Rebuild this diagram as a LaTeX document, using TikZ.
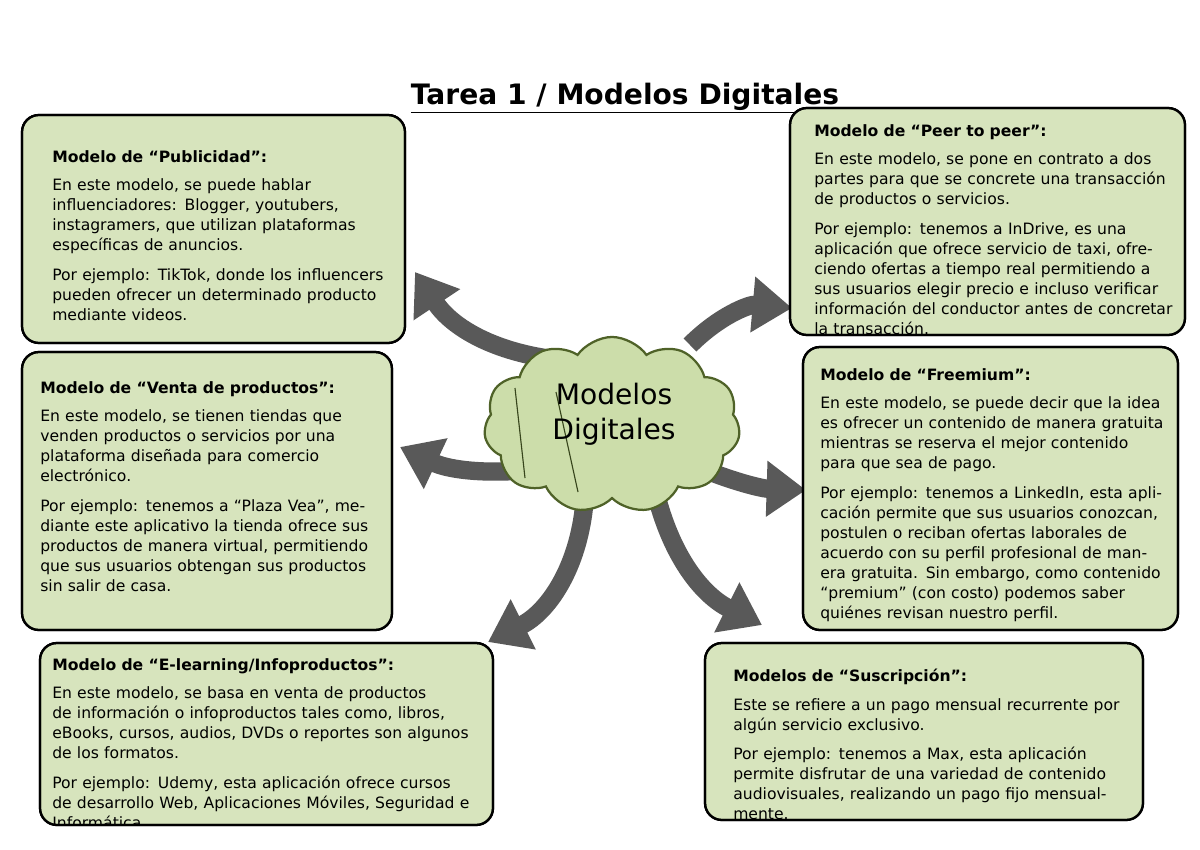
\documentclass[tikz,border=0pt]{standalone}
\usepackage{fontspec}
\setmainfont{DejaVu Sans}
\usetikzlibrary{arrows.meta,shapes.symbols,positioning}
\definecolor{boxfill}{HTML}{D7E4BD}
\definecolor{cloudfill}{HTML}{CCDDAA}
\definecolor{cloudline}{HTML}{4F6228}
\definecolor{arrowgray}{HTML}{595959}
\tikzset{
    modelbox/.style={draw=black, fill=boxfill, line width=1.6pt, rounded corners=12pt},
    modeltext/.style={anchor=north west, inner sep=0pt, align=left,
        font=\fontsize{11.1}{14.2}\selectfont},
    bigarrow/.style={draw=arrowgray, line width=13pt,
        -{Triangle[width=38pt,length=28pt]}},
}
\newcommand{\mhead}[1]{\hyphenpenalty=10000\exhyphenpenalty=10000\textbf{#1}\par\vspace{6pt}}
\newcommand{\mgap}{\par\vspace{7pt}}
% box: name, x1, y1, x2, y2, text x, text y, content
\newcommand{\modelcard}[8]{
    \begin{scope}
        \path[modelbox] (#2,#3) rectangle (#4,#5);
        \clip[rounded corners=12pt] (#2,#3) rectangle (#4,#5);
        \node[modeltext, text width=(#4-#6-12)*0.025cm] (#1) at (#6,#7) {#8};
    \end{scope}
    \draw[line width=1.6pt, rounded corners=12pt] (#2,#3) rectangle (#4,#5);
}
\begin{document}
\begin{tikzpicture}[x=0.025cm, y=-0.025cm]
\useasboundingbox[fill=white] (0,0) rectangle (1200,849);
% title
\node[font=\fontsize{20}{23}\selectfont\bfseries] (title) at (625,98) {\underline{Tarea 1 / Modelos Digitales}};
% arrows from the cloud
\coordinate (c1) at (560,360); \coordinate (t1) at (415,272);
\coordinate (c2) at (690,345); \coordinate (t2) at (792,308);
\coordinate (c3) at (530,470); \coordinate (t3) at (400,447);
\coordinate (c4) at (700,468); \coordinate (t4) at (806,490);
\coordinate (c5) at (585,495); \coordinate (t5) at (488,642);
\coordinate (c6) at (655,490); \coordinate (t6) at (762,625);
\draw[bigarrow] (c1) to[bend left=25] (t1);
\draw[bigarrow] (c2) to[bend left=25] (t2);
\draw[bigarrow] (c3) to[bend left=15] (t3);
\draw[bigarrow] (c4) to[bend right=10] (t4);
\draw[bigarrow] (c5) to[bend left=30] (t5);
\draw[bigarrow] (c6) to[bend right=25] (t6);
% cloud
\node[cloud, cloud puffs=11, cloud puff arc=110, aspect=1.5, draw=cloudline, line width=1.6pt,
    fill=cloudfill, minimum width=6.4cm, minimum height=4.4cm] (cloud) at (612,425) {};
\draw[cloudline!70!black, line width=0.8pt] (515,388) -- (525,478);
\draw[cloudline!70!black, line width=0.8pt] (556,392) -- (578,492);
\node[align=center, font=\fontsize{20}{25}\selectfont] (ctext) at (614,414) {Modelos\\Digitales};
% boxes
\modelcard{pub}{22}{115}{405}{343}{52}{150}{\mhead{Modelo de “Publicidad”:}En este modelo, se puede hablar influenciadores: Blogger, youtubers, instagramers, que utilizan plataformas específicas de anuncios.\mgap Por ejemplo: TikTok, donde los influencers pueden ofrecer un determinado producto mediante videos.}
\modelcard{peer}{790}{108}{1185}{335}{814}{124}{\mhead{Modelo de “Peer to peer”:}En este modelo, se pone en contrato a dos partes para que se concrete una transacción de productos o servicios.\mgap Por ejemplo: tenemos a InDrive, es una aplicación que ofrece servicio de taxi, ofreciendo ofertas a tiempo real permitiendo a sus usuarios elegir precio e incluso verificar información del conductor antes de concretar la transacción.}
\modelcard{venta}{22}{352}{392}{630}{40}{381}{\mhead{Modelo de “Venta de productos”:}En este modelo, se tienen tiendas que venden productos o servicios por una plataforma diseñada para comercio electrónico.\mgap Por ejemplo: tenemos a “Plaza Vea”, mediante este aplicativo la tienda ofrece sus productos de manera virtual, permitiendo que sus usuarios obtengan sus productos sin salir de casa.}
\modelcard{free}{803}{347}{1178}{630}{820}{368}{\mhead{Modelo de “Freemium”:}En este modelo, se puede decir que la idea es ofrecer un contenido de manera gratuita mientras se reserva el mejor contenido para que sea de pago.\mgap Por ejemplo: tenemos a LinkedIn, esta aplicación permite que sus usuarios conozcan, postulen o reciban ofertas laborales de acuerdo con su perfil profesional de manera gratuita. Sin embargo, como contenido “premium” (con costo) podemos saber quiénes revisan nuestro perfil.}
\modelcard{elearn}{40}{643}{493}{825}{52}{658}{\mhead{Modelo de “E-learning/Infoproductos”:}En este modelo, se basa en venta de productos de información o infoproductos tales como, libros, eBooks, cursos, audios, DVDs o reportes son algunos de los formatos.\mgap Por ejemplo: Udemy, esta aplicación ofrece cursos de desarrollo Web, Aplicaciones Móviles, Seguridad e Informática.}
\modelcard{susc}{705}{643}{1143}{820}{733}{669}{\mhead{Modelos de “Suscripción”:}Este se refiere a un pago mensual recurrente por algún servicio exclusivo.\mgap Por ejemplo: tenemos a Max, esta aplicación permite disfrutar de una variedad de contenido audiovisuales, realizando un pago fijo mensualmente.}
\end{tikzpicture}
\end{document}
